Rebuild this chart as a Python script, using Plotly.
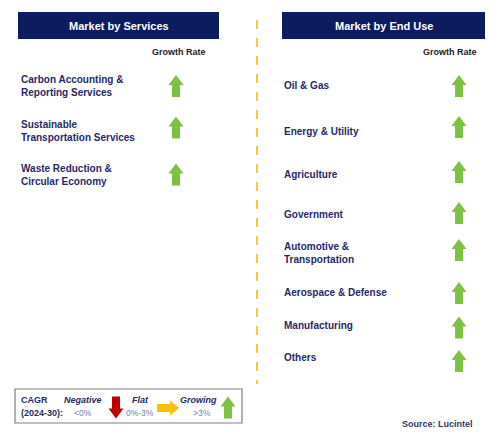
import plotly.graph_objects as go

# ---- data ----
services = [
    "Carbon Accounting &<br>Reporting Services",
    "Sustainable<br>Transportation Services",
    "Waste Reduction &<br>Circular Economy",
]
services_growth = ["growing", "growing", "growing"]

end_uses = [
    "Oil & Gas",
    "Energy & Utility",
    "Agriculture",
    "Government",
    "Automotive &<br>Transportation",
    "Aerospace & Defense",
    "Manufacturing",
    "Others",
]
end_use_growth = ["growing"] * 8

legend_labels = ["Negative", "Flat", "Growing"]
legend_ranges = ["<0%", "0%-3%", ">3%"]
legend_kinds = ["negative", "flat", "growing"]

# ---- layout helpers (pixel space, y down) ----
W, H = 504, 438
NAVY = "#0b1d5e"
TEXT = "#1f2a66"
ARROW_COLORS = {"growing": "#7dc242", "negative": "#c00000", "flat": "#ffc000"}

services_label_y = [86, 131, 175]
services_arrow_y = [86, 127.5, 174.5]
end_use_label_y = [85, 131, 174, 214, 253, 292, 325, 357]
end_use_arrow_y = [86, 127, 172, 213, 250, 293, 327.5, 361]

fig = go.Figure()


def arrow_points(cx, cy, kind, length=22, head_w=15, head_h=10, shaft_w=8):
    """Polygon for a block arrow centred at cx, cy."""
    hl, hh, hs = length / 2, head_w / 2, shaft_w / 2
    if kind == "flat":
        # pointing right
        xs = [cx - hl, cx + hl - head_h, cx + hl - head_h, cx + hl,
              cx + hl - head_h, cx + hl - head_h, cx - hl, cx - hl]
        ys = [cy - hs, cy - hs, cy - hh, cy, cy + hh, cy + hs, cy + hs, cy - hs]
        return xs, ys
    sign = -1 if kind == "growing" else 1  # tip up for growing
    tip = cy + sign * hl
    base = cy - sign * hl
    neck = tip - sign * head_h
    xs = [cx - hs, cx - hs, cx - hh, cx, cx + hh, cx + hs, cx + hs, cx - hs]
    ys = [base, neck, neck, tip, neck, neck, base, base]
    return xs, ys


def add_arrow(cx, cy, kind, **kw):
    xs, ys = arrow_points(cx, cy, kind, **kw)
    fig.add_trace(go.Scatter(
        x=xs, y=ys, mode="lines", fill="toself",
        fillcolor=ARROW_COLORS[kind], line=dict(width=0),
        hoverinfo="skip", showlegend=False,
    ))


def add_text(x, y, text, size=10, color=TEXT, xanchor="left", bold=True,
             italic=False, family="Arial, Liberation Sans, sans-serif"):
    t = text
    if bold:
        t = f"<b>{t}</b>"
    if italic:
        t = f"<i>{t}</i>"
    fig.add_annotation(x=x, y=y, xref="x", yref="y", text=t, showarrow=False,
                       xanchor=xanchor, yanchor="middle", align="left",
                       font=dict(size=size, color=color, family=family))


# headers
for x0, x1, title in [(18, 219, "Market by Services"), (282, 485, "Market by End Use")]:
    fig.add_shape(type="rect", x0=x0, x1=x1, y0=12, y1=39, xref="x", yref="y",
                  fillcolor=NAVY, line=dict(width=0), layer="below")
    add_text((x0 + x1) / 2, 25.5, title, size=11, color="white", xanchor="center")

add_text(179, 52, "Growth Rate", size=9, color="#222222", xanchor="center")
add_text(450, 52, "Growth Rate", size=9, color="#222222", xanchor="center")

# divider
fig.add_shape(type="line", x0=257, x1=257, y0=20, y1=384, xref="x", yref="y",
              line=dict(color="#f5b800", width=1.5, dash="dash"))

# services
for label, kind, ly, ay in zip(services, services_growth, services_label_y, services_arrow_y):
    add_text(19, ly, label)
    add_arrow(176, ay, kind)

# end uses
for label, kind, ly, ay in zip(end_uses, end_use_growth, end_use_label_y, end_use_arrow_y):
    add_text(282, ly, label)
    add_arrow(459, ay, kind)

# legend box
fig.add_shape(type="rect", x0=15, x1=242, y0=389, y1=423, xref="x", yref="y",
              fillcolor="white", line=dict(color="#7f7f7f", width=1.2), layer="below")
add_text(19, 400, "CAGR", size=9, color=TEXT)
add_text(19, 413, "(2024-30):", size=9, color=TEXT)
legend_x = [83, 140, 198]
arrow_x = [116, 168, 228]
for x, ax, lab, rng, kind in zip(legend_x, arrow_x, legend_labels, legend_ranges, legend_kinds):
    add_text(x, 400, lab, size=9, color=TEXT, xanchor="center", italic=True)
    add_text(x + (4 if kind == "growing" else 0), 413, rng, size=8.5, color="#6b7fae",
             xanchor="center", bold=False)
    if kind == "flat":
        add_arrow(ax, 408, kind, length=22, head_w=15, head_h=9, shaft_w=8)
    else:
        add_arrow(ax, 407.5, kind)

add_text(475, 424, "Source: Lucintel", size=9, color="#2e3a63", xanchor="right")

fig.update_xaxes(range=[0, W], visible=False, fixedrange=True)
fig.update_yaxes(range=[H, 0], visible=False, fixedrange=True)
fig.update_layout(
    width=W, height=H,
    margin=dict(l=0, r=0, t=0, b=0),
    plot_bgcolor="white", paper_bgcolor="white",
    showlegend=False,
)

fig.write_html("out.html", config={"displayModeBar": False},
               post_script="document.body.style.margin='0';")
